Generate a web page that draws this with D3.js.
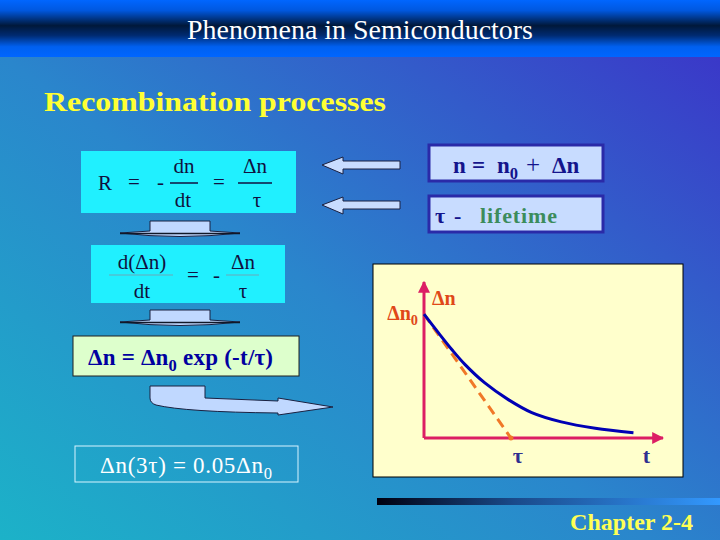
<!DOCTYPE html>
<html>
<head>
<meta charset="utf-8">
<script src="https://cdn.jsdelivr.net/npm/d3@7"></script>
<style>
  body { margin: 0; background: #fff; }
  svg { display: block; }
  text { white-space: pre; font-family: "Liberation Serif", Tinos, "Times New Roman", Times, serif; }
</style>
</head>
<body>
<svg id="slide" width="720" height="540"></svg>
<script>
// decay curve (t in units of tau, dn in units of dn0)
var curveT = [0, 0.16, 0.32, 0.47, 0.70, 0.97, 1.24, 1.58, 1.97, 2.41];
var curveDn = [1, 0.855, 0.715, 0.595, 0.445, 0.31, 0.205, 0.13, 0.078, 0.042];
// initial tangent, reaches zero at t = tau
var tangentT = [0, 1];
var tangentDn = [1, 0];
// axis extents (t, dn) and axis labels
var axisMax = [2.75, 1.26];
var xLabels = ["\u03c4", "t"];
var xLabelPos = [1.08, 2.56];

var NAVY = "#14148c";

var svg = d3.select("#slide");
var defs = svg.append("defs");

// ---- background gradients
var bg = defs.append("linearGradient").attr("id", "bg")
  .attr("x1", "0%").attr("y1", "100%").attr("x2", "100%").attr("y2", "0%");
bg.append("stop").attr("offset", "0%").attr("stop-color", "#1cb2c8");
bg.append("stop").attr("offset", "45%").attr("stop-color", "#2a86cc");
bg.append("stop").attr("offset", "100%").attr("stop-color", "#3c30c8");

var head = defs.append("linearGradient").attr("id", "head")
  .attr("x1", 0).attr("y1", 0).attr("x2", 0).attr("y2", 1);
[[0, "#0066ff"], [0.18, "#0058e0"], [0.45, "#00183a"], [0.62, "#002a70"], [0.82, "#0060f0"], [1, "#0066ff"]]
  .forEach(function (s) { head.append("stop").attr("offset", s[0]).attr("stop-color", s[1]); });

var bar = defs.append("linearGradient").attr("id", "bar");
bar.append("stop").attr("offset", "0%").attr("stop-color", "#000010");
bar.append("stop").attr("offset", "40%").attr("stop-color", "#1a4a8a");
bar.append("stop").attr("offset", "100%").attr("stop-color", "#3399ff");

svg.append("rect").attr("width", 720).attr("height", 540).attr("fill", "url(#bg)");
svg.append("rect").attr("width", 720).attr("height", 57).attr("fill", "url(#head)");

// ---- helpers
function txt(g, x, y, s, size, color, opts) {
  opts = opts || {};
  return g.append("text")
    .attr("x", x).attr("y", y)
    .attr("font-size", size)
    .attr("font-weight", opts.bold ? "bold" : "normal")
    .attr("text-anchor", opts.anchor || "start")
    .attr("fill", color)
    .text(s);
}

// parts: strings are normal, ["x"] is a subscript
function rich(g, x, y, parts, size, color, bold) {
  var t = g.append("text")
    .attr("x", x).attr("y", y)
    .attr("font-size", size)
    .attr("font-weight", bold ? "bold" : "normal")
    .attr("fill", color);
  var shift = 0;
  parts.forEach(function (p) {
    var sub = Array.isArray(p);
    var s = t.append("tspan").text(sub ? p[0] : p);
    var target = sub ? Math.round(size * 0.25) : 0;
    if (target !== shift) s.attr("dy", target - shift);
    if (sub) s.attr("font-size", size * 0.72);
    shift = target;
  });
  return t;
}

function line(g, x1, y1, x2, y2, color, w) {
  g.append("line").attr("x1", x1).attr("y1", y1).attr("x2", x2).attr("y2", y2)
    .attr("stroke", color).attr("stroke-width", w);
}

// ---- titles
txt(svg, 360, 39, "Phenomena in Semiconductors", 27, "#ffffff", { anchor: "middle" })
  .attr("textLength", 346).attr("lengthAdjust", "spacingAndGlyphs");
txt(svg, 44, 111, "Recombination processes", 27, "#ffff33", { bold: true })
  .attr("textLength", 342).attr("lengthAdjust", "spacingAndGlyphs");

// ---- left column: formulas
var left = svg.append("g");
var INK = "#101040";

left.append("rect").attr("x", 81).attr("y", 151).attr("width", 215).attr("height", 62).attr("fill", "#20f0ff");
txt(left, 98, 190, "R", 21, INK);
txt(left, 128, 189, "=", 21, INK);
txt(left, 157, 189, "-", 21, INK);
txt(left, 184, 173, "dn", 21, INK, { anchor: "middle" });
line(left, 170, 183, 198, 183, INK, 1.5);
txt(left, 183, 207, "dt", 21, INK, { anchor: "middle" });
txt(left, 213, 189, "=", 21, INK);
txt(left, 255, 173, "\u0394n", 21, INK, { anchor: "middle" });
line(left, 238, 183, 272, 183, INK, 1.5);
txt(left, 257, 207, "\u03c4", 21, INK, { anchor: "middle" });

left.append("rect").attr("x", 91).attr("y", 245).attr("width", 194).attr("height", 58).attr("fill", "#20f0ff");
txt(left, 142, 269, "d(\u0394n)", 21, INK, { anchor: "middle" });
line(left, 109, 275, 173, 275, "#6aa8b8", 1);
txt(left, 142, 298, "dt", 21, INK, { anchor: "middle" });
txt(left, 187, 282, "=", 21, INK);
txt(left, 213, 282, "-", 21, INK);
txt(left, 243, 269, "\u0394n", 21, INK, { anchor: "middle" });
line(left, 226, 275, 259, 275, "#6aa8b8", 1);
txt(left, 243, 298, "\u03c4", 21, INK, { anchor: "middle" });

// flat down arrows between the boxes
[221, 310].forEach(function (top) {
  var d = "M120," + (top + 12) + " L150," + (top + 10) + " L150," + top + " L210," + top +
    " L210," + (top + 10) + " L240," + (top + 12) + " Q180," + (top + 19) + " 120," + (top + 12) + " Z";
  left.append("path").attr("d", d).attr("fill", "#c0d8ff").attr("stroke", "#1a2040").attr("stroke-width", 1);
  line(left, 120, top + 12.5, 240, top + 12.5, "#101828", 1.5);
});

left.append("rect").attr("x", 73).attr("y", 336).attr("width", 226).attr("height", 40)
  .attr("fill", "#ddffcc").attr("stroke", "#202020").attr("stroke-width", 1);
rich(left, 88, 365, ["\u0394n = \u0394n", ["0"], " exp (-t/\u03c4)"], 23, "#0000a0", true)
  .attr("textLength", 185).attr("lengthAdjust", "spacing");

// bent arrow pointing to the graph
left.append("path")
  .attr("d", "M150,386 L205,386 L205,398 L278,401 L278,398 L333,407 L278,415 L278,413 Q185,412 156,405 Q150,403 150,398 Z")
  .attr("fill", "#c0d8ff").attr("stroke", "#1a2040").attr("stroke-width", 1);

left.append("rect").attr("x", 75).attr("y", 446).attr("width", 223).attr("height", 36)
  .attr("fill", "none").attr("stroke", "#d8f4ff").attr("stroke-width", 1);
rich(left, 100, 473, ["\u0394n(3\u03c4) = 0.05\u0394n", ["0"]], 23, "#ffffff", false)
  .attr("textLength", 172).attr("lengthAdjust", "spacing");

// ---- right column: definitions
var right = svg.append("g");
[165, 205].forEach(function (yc) {
  right.append("path")
    .attr("d", "M322," + yc + " L343," + (yc - 8) + " L343," + (yc - 4) + " L400," + (yc - 4) +
      " L400," + (yc + 4) + " L343," + (yc + 4) + " L343," + (yc + 9) + " Z")
    .attr("fill", "#c8dcff").attr("stroke", "#1a2040").attr("stroke-width", 1);
});
right.append("rect").attr("x", 429).attr("y", 145).attr("width", 174).attr("height", 36)
  .attr("fill", "#c8dcff").attr("stroke", "#2a2aa8").attr("stroke-width", 3);
txt(right, 453, 173, "n", 23, NAVY, { bold: true });
txt(right, 472, 173, "=", 23, NAVY, { bold: true });
rich(right, 497, 173, ["n", ["0"]], 23, NAVY, true);
txt(right, 526, 173, "+", 25, NAVY);
txt(right, 552, 173, "\u0394n", 23, NAVY, { bold: true });

right.append("rect").attr("x", 429).attr("y", 196).attr("width", 174).attr("height", 36)
  .attr("fill", "#c8dcff").attr("stroke", "#2a2aa8").attr("stroke-width", 3);
txt(right, 435, 223, "\u03c4", 22, NAVY, { bold: true });
txt(right, 454, 223, "-", 22, NAVY, { bold: true });
txt(right, 480, 223, "lifetime", 22, "#3c8c5c", { bold: true })
  .attr("textLength", 77).attr("lengthAdjust", "spacing");

// ---- decay graph
var chart = svg.append("g");
chart.append("rect").attr("x", 373).attr("y", 264).attr("width", 310).attr("height", 213)
  .attr("fill", "#ffffcc").attr("stroke", "#000").attr("stroke-width", 1);

var x = d3.scaleLinear().domain([0, axisMax[0]]).range([424, 663]);
var y = d3.scaleLinear().domain([0, axisMax[1]]).range([438, 282]);

var AXIS = "#dc1e64";
defs.append("marker").attr("id", "tip")
  .attr("viewBox", "0 0 10 10").attr("refX", 9).attr("refY", 5)
  .attr("markerWidth", 4).attr("markerHeight", 4).attr("orient", "auto")
  .append("path").attr("d", "M0,0 L10,5 L0,10 Z").attr("fill", AXIS);

chart.append("line")
  .attr("x1", x(0)).attr("y1", y(0)).attr("x2", x(0)).attr("y2", y(axisMax[1]))
  .attr("stroke", AXIS).attr("stroke-width", 3).attr("marker-end", "url(#tip)");
chart.append("line")
  .attr("x1", x(0)).attr("y1", y(0)).attr("x2", x(axisMax[0])).attr("y2", y(0))
  .attr("stroke", AXIS).attr("stroke-width", 3).attr("marker-end", "url(#tip)");

var pts = curveT.map(function (t, i) { return [t, curveDn[i]]; });
var tan = tangentT.map(function (t, i) { return [t, tangentDn[i]]; });
var lineGen = d3.line().x(function (d) { return x(d[0]); }).y(function (d) { return y(d[1]); });

chart.append("path").datum(tan)
  .attr("d", lineGen)
  .attr("fill", "none").attr("stroke", "#f07828").attr("stroke-width", 3)
  .attr("stroke-dasharray", "10,6");
chart.append("circle").attr("cx", x(1)).attr("cy", y(0)).attr("r", 2.5).attr("fill", "#f07828");

chart.append("path").datum(pts)
  .attr("d", lineGen.curve(d3.curveCatmullRom.alpha(0.5)))
  .attr("fill", "none").attr("stroke", "#0000b4").attr("stroke-width", 3);

rich(chart, x(0) - 6, y(1) + 6, ["\u0394n", ["0"]], 20, "#e04818", true).attr("text-anchor", "end");
txt(chart, x(0) + 8, y(1) - 9, "\u0394n", 20, "#e04818", { bold: true });
xLabels.forEach(function (l, i) {
  txt(chart, x(xLabelPos[i]), 463, l, 22, "#303090", { bold: true, anchor: "middle" });
});

// ---- footer
svg.append("rect").attr("x", 377).attr("y", 498).attr("width", 343).attr("height", 7).attr("fill", "url(#bar)");
txt(svg, 693, 530, "Chapter 2-4", 24, "#ffff55", { bold: true, anchor: "end" });
</script>
</body>
</html>
